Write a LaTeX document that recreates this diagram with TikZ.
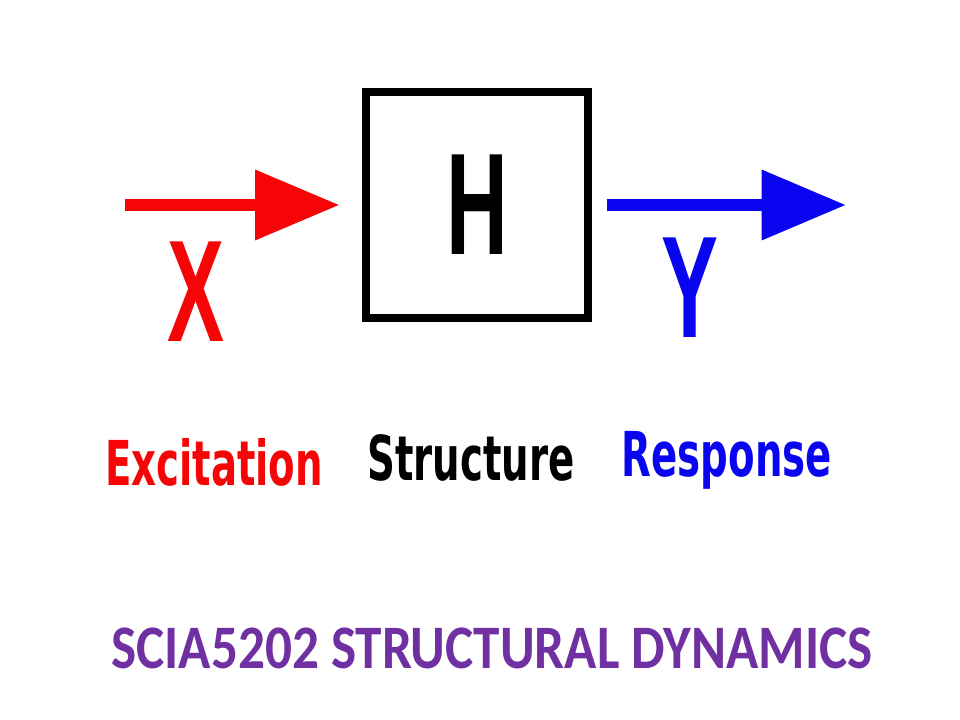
\documentclass[tikz,border=0pt]{standalone}
\usepackage{fontspec}
\setmainfont{DejaVu Sans}
\newfontfamily\tallfont{Liberation Sans}
\newfontfamily\titlefont{Carlito}
\usetikzlibrary{arrows.meta}
\definecolor{colX}{rgb}{.96,.02,.02}
\definecolor{colY}{rgb}{.04,.02,.94}
\definecolor{colT}{rgb}{.44,.19,.63}
\tikzstyle{letter}=[inner sep=0pt, font=\tallfont\bfseries\fontsize{103}{103}\selectfont, xscale=0.59]
\tikzstyle{word}=[inner sep=0pt, font=\bfseries\fontsize{44}{50}\selectfont, xscale=0.625]
\tikzstyle{sigarrow}=[line width=8.5pt, -{Triangle[length=60pt,width=48pt]}]
\tikzstyle{block}=[draw, line width=5pt, minimum width=222*0.025cm, minimum height=226*0.025cm, inner sep=0pt]

\begin{document}
\begin{tikzpicture}[x=0.025cm, y=-0.025cm]
		\useasboundingbox (0,0) rectangle (960,720);
		\node[block] (H) at (477, 205) {};
		\node[letter] (h) at (H.center) {H};
		\coordinate (xs) at (125, 205);
		\coordinate (ye) at (846, 205);
		\node[letter,colX] (x) at (196, 292) {X};
		\node[letter,colY] (y) at (690, 288) {Y};
		\node[word,colX] (exc) at (214, 462) {Excitation};
		\node[word] (str) at (471, 458) {Structure};
		\node[word,colY] (res) at (727, 460) {Response};
		\node[inner sep=0pt, colT, font=\titlefont\bfseries\fontsize{44}{50}\selectfont, xscale=0.86] (title) at (492, 648) {SCIA5202 STRUCTURAL DYNAMICS};
		\draw[sigarrow,colX] (xs) -- ([xshift=-23*0.025cm]H.west);
		\draw[sigarrow,colY] ([xshift=15*0.025cm]H.east) -- (ye);
	\end{tikzpicture}
\end{document}
